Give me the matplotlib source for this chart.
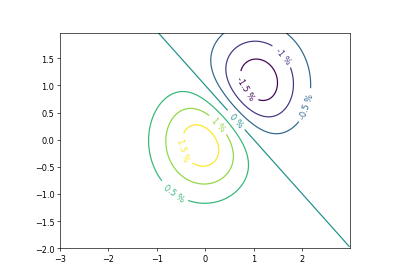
import numpy as np
import matplotlib.pyplot as plt

# field: difference of two gaussian bumps, sampled on a regular grid
x_range = [-3.0, 3.0]
y_range = [-2.0, 2.0]
step = 0.025
bump_centers = [(0.0, 0.0), (1.0, 1.0)]
bump_signs = [1.0, -1.0]
scale = 2.0
levels = [-1.5, -1.0, -0.5, 0.0, 0.5, 1.0, 1.5]

# where the labels sit in the reference (data coords)
label_spots = [(1.58, 1.54), (0.78, 0.93), (2.12, 0.62), (0.63, 0.36),
               (0.24, 0.26), (-0.46, -0.18), (-0.61, -0.92)]

x = np.arange(x_range[0], x_range[1], step)
y = np.arange(y_range[0], y_range[1], step)
X, Y = np.meshgrid(x, y)
Z = np.zeros_like(X)
for (cx, cy), s in zip(bump_centers, bump_signs):
    Z += s * np.exp(-(X - cx) ** 2 - (Y - cy) ** 2)
Z *= scale


def fmt(v):
    s = f"{v:.1f}"
    if s.endswith("0"):
        s = f"{v:.0f}"
    return f"{s} %"


fig = plt.figure(figsize=(6.857, 4.8), dpi=58.33)
ax = fig.add_axes([0.15, 0.11, 0.724, 0.77])
CS = ax.contour(X, Y, Z, levels=levels)
ax.clabel(CS, CS.levels, fmt=fmt, fontsize=10, manual=label_spots)

fig.savefig("out.png", dpi=58.33)
